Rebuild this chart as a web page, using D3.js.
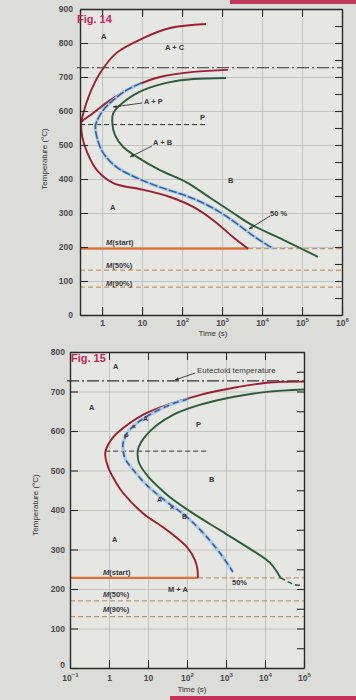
<!DOCTYPE html>
<html><head><meta charset="utf-8">
<script src="https://cdn.jsdelivr.net/npm/d3@7"></script>
<style>body{margin:0;background:#dcdcd8}svg{display:block}</style>
</head><body><svg id="c" width="356" height="700"></svg>
<script>
// ---------------- DATA ----------------
// Fig. 14
const temps14 = [0,100,200,300,400,500,600,700,800,900];
const times14 = [1,10,100,1000,10000,100000,1000000];
const timeLabels14 = ['1','10','10^2','10^3','10^4','10^5','10^6'];
const eutectoid14 = 727;
const msStart14 = 195, ms50_14 = 132, ms90_14 = 82;
const pLine14 = {t0: 0.28, t1: 380, T: 560};
// [time (s), temperature (°C)]
const redOuter14 = [[400,856],[50,844],[11,815],[2.3,771],[0.89,712],[0.5,653],[0.34,594],[0.3,562],[0.32,523],[0.43,476],[0.74,426],[1.9,388],[11,368],[50,347],[190,318],[600,279],[1900,229],[4500,195]];
const redInner14 = [[1400,721],[190,715],[28,700],[6,671],[1.6,632],[0.6,594],[0.31,570]];
const blue14 = [[9.5,682],[4.2,662],[1.9,632],[1.07,603],[0.74,570],[0.68,555],[0.74,523],[1.07,476],[2.3,435],[7.4,403],[28,376],[130,350],[400,325],[1500,285],[6000,233],[19000,195]];
const green14 = [[1260,697],[190,694],[50,685],[11,662],[3.4,626],[1.9,594],[1.8,565],[2.1,529],[3.4,494],[7.4,465],[28,426],[130,390],[500,345],[1900,300],[5000,268],[34000,221],[89000,197],[250000,171]];

// Fig. 15
const temps15 = [0,100,200,300,400,500,600,700,800];
const times15 = [0.1,1,10,100,1000,10000,100000];
const timeLabels15 = ['10^-1','1','10','10^2','10^3','10^4','10^5'];
const eutectoid15 = 727;
const msStart15 = 228, ms50_15 = 170, ms90_15 = 130;
const pLine15 = {t0: 0.8, t1: 350, T: 549};
const red15 = [[100000,725],[11000,722],[1500,709],[210,691],[31,666],[7.4,641],[2.9,615],[1.3,585],[0.95,565],[0.82,550],[0.8,540],[0.86,522],[1.0,503],[1.5,470],[2.3,443],[7.4,392],[31,349],[100,306],[160,273],[185,250],[190,228]];
const green15 = [[100000,705],[11000,699],[1500,686],[210,666],[44,641],[17,615],[8.3,585],[5.8,560],[5.4,545],[5.9,519],[10,485],[20,455],[36,433],[140,392],[700,349],[3500,306],[13500,266],[25000,228]];
const green15tail = [[25000,228],[50000,213],[62000,210],[95000,210]];
const blue15 = [[107,681],[36,666],[11,641],[5.2,620],[2.9,595],[2.3,570],[2.3,552],[2.6,530],[4.2,501],[10,460],[31,420],[100,382],[320,332],[700,291],[1260,255],[1500,243]];

// ---------------- DRAWING ----------------
const svg = d3.select('#c');
const FONT = "'Liberation Sans Narrow','Liberation Sans',Arial,sans-serif";
const RED = '#9a1f35', GREEN = '#2e5b3d', BLUE = '#35609a', LBLUE = '#a9c8e6';
const ORANGE = '#e0703a', MDASH = '#b98457';

// page edge decorations
svg.append('rect').attr('x',230).attr('y',0).attr('width',126).attr('height',4).attr('fill','#c33a60');
svg.append('rect').attr('x',170).attr('y',696).attr('width',186).attr('height',4).attr('fill','#c9305a');

function supText(sel, s){
  sel.text(null);
  const m = s.split('^');
  sel.append('tspan').text(m[0]);
  if(m.length>1) sel.append('tspan').attr('dy',-4).attr('font-size',6).text(m[1].replace('-','\u2212'));
}

function panel(o){
  const x = d3.scaleLog().domain(o.xDomain).range([o.left,o.right]);
  const y = d3.scaleLinear().domain([0,o.tMax]).range([o.bottom,o.top]);
  const g = svg.append('g');
  const W = o.right-o.left, H = o.bottom-o.top;
  g.append('rect').attr('x',o.left).attr('y',o.top).attr('width',W).attr('height',H).attr('fill','#e6e6e3');
  // grid
  g.append('g').attr('transform',`translate(0,${o.bottom})`)
    .call(d3.axisBottom(x).tickValues(o.times).tickSize(-H).tickFormat(''))
    .call(s=>{s.select('.domain').remove();s.selectAll('line').attr('stroke','#b9b9b6').attr('stroke-width',0.8);});
  g.append('g').attr('transform',`translate(${o.left},0)`)
    .call(d3.axisLeft(y).tickValues(o.temps).tickSize(-W).tickFormat(''))
    .call(s=>{s.select('.domain').remove();s.selectAll('line').attr('stroke','#b9b9b6').attr('stroke-width',0.8);});
  const line = d3.line().x(d=>x(d[0])).y(d=>y(d[1])).curve(d3.curveCatmullRom.alpha(0.5));
  // eutectoid dash-dot
  g.append('line').attr('x1',o.left-3).attr('x2',o.right).attr('y1',y(o.eut)).attr('y2',y(o.eut))
    .attr('stroke','#333').attr('stroke-width',1.1).attr('stroke-dasharray','12,3,2,3');
  // M lines
  g.append('line').attr('x1',o.left).attr('x2',x(o.msEnd)).attr('y1',y(o.ms)).attr('y2',y(o.ms))
    .attr('stroke',ORANGE).attr('stroke-width',2.3);
  g.append('line').attr('x1',x(o.msEnd)).attr('x2',o.right).attr('y1',y(o.ms)).attr('y2',y(o.ms))
    .attr('stroke',MDASH).attr('stroke-width',1).attr('stroke-dasharray','5,3');
  [o.m50,o.m90].forEach(T=>{
    g.append('line').attr('x1',o.left).attr('x2',o.right).attr('y1',y(T)).attr('y2',y(T))
      .attr('stroke',MDASH).attr('stroke-width',1).attr('stroke-dasharray','5,3');
  });
  // P dashed line
  g.append('line').attr('x1',x(o.p.t0)).attr('x2',x(o.p.t1)).attr('y1',y(o.p.T)).attr('y2',y(o.p.T))
    .attr('stroke','#333').attr('stroke-width',1).attr('stroke-dasharray','5,3');
  // curves
  o.curves.forEach(c=>{
    if(c.under) g.append('path').attr('d',line(c.data)).attr('fill','none').attr('stroke',c.under).attr('stroke-width',3.2);
    g.append('path').attr('d',line(c.data)).attr('fill','none').attr('stroke',c.color)
      .attr('stroke-width',c.w||1.9).attr('stroke-dasharray',c.dash||null);
  });
  // axes
  const ax = s=>{s.select('.domain').attr('stroke','#2a2a2a').attr('stroke-width',1.4);
    s.selectAll('.tick line').attr('stroke','#2a2a2a').attr('stroke-width',1.1);
    s.selectAll('text').attr('font-family',FONT).attr('font-size',8.5).attr('font-weight',700).attr('fill','#4a4a4a');};
  const ly = g.append('g').attr('transform',`translate(${o.left},0)`)
    .call(d3.axisLeft(y).tickValues(o.temps).tickSize(-8).tickPadding(o.yPad).tickSizeOuter(0)).call(ax);
  if(o.zeroUp) ly.selectAll('.tick').filter(d=>d===0).select('text').attr('y',-o.zeroUp);
  const rt = d3.range(50,o.tMax,50);
  g.append('g').attr('transform',`translate(${o.right},0)`)
    .call(d3.axisRight(y).tickValues(rt).tickSize(-7).tickFormat('').tickSizeOuter(0)).call(ax);
  g.append('g').attr('transform',`translate(0,${o.top})`)
    .call(d3.axisTop(x).tickValues(o.times).tickSize(-8).tickFormat('').tickSizeOuter(0)).call(ax);
  const bx = g.append('g').attr('transform',`translate(0,${o.bottom})`)
    .call(d3.axisBottom(x).tickValues(o.times).tickSize(-8).tickPadding(o.xPad).tickSizeOuter(0)).call(ax);
  bx.selectAll('.tick text').each(function(d,i){supText(d3.select(this),o.timeLabels[i]);});
  // titles
  g.append('text').attr('x',o.tx).attr('y',o.ty).attr('text-anchor','middle').attr('font-family',FONT)
    .attr('font-size',8).attr('fill','#333').text('Time (s)');
  g.append('text').attr('transform',`translate(${o.yx},${o.yy}) rotate(-90)`).attr('text-anchor','middle')
    .attr('font-family',FONT).attr('font-size',8).attr('fill','#333').text('Temperature (\u00B0C)');
  // labels
  g.append('text').attr('x',o.fig[0]).attr('y',o.fig[1]).attr('font-family','Liberation Sans,Arial,sans-serif')
    .attr('font-size',11).attr('font-weight',700).attr('fill','#c2285a').attr('dominant-baseline','middle').text(o.fig[2]);
  o.labels.forEach(l=>{
    const t = g.append('text').attr('x',l[0]).attr('y',l[1]).attr('font-family',FONT).attr('font-size',l[3]||7.5)
      .attr('font-weight',l[4]?400:700).attr('fill','#3a3a3a').attr('dominant-baseline','middle');
    if(l[2].startsWith('M(')){t.append('tspan').attr('font-style','italic').text('M');t.append('tspan').text(l[2].slice(1));}
    else t.text(l[2]);
  });
  o.leaders.forEach(l=>{
    g.append('line').attr('x1',l[0]).attr('y1',l[1]).attr('x2',l[2]).attr('y2',l[3]).attr('stroke','#333').attr('stroke-width',0.9);
    const a = Math.atan2(l[3]-l[1],l[2]-l[0]);
    const p = [[l[2],l[3]],[l[2]-4*Math.cos(a-0.4),l[3]-4*Math.sin(a-0.4)],[l[2]-4*Math.cos(a+0.4),l[3]-4*Math.sin(a+0.4)]];
    g.append('path').attr('d','M'+p.join('L')+'Z').attr('fill','#333');
  });
}

panel({
  xDomain:[0.28,1e6], tMax:900, left:80, right:342, top:9, bottom:315,
  times:times14, temps:temps14, timeLabels:timeLabels14, yPad:7, xPad:5,
  eut:eutectoid14, ms:msStart14, msEnd:4500, m50:ms50_14, m90:ms90_14, p:pLine14,
  curves:[
    {data:redOuter14,color:RED},
    {data:redInner14,color:RED},
    {data:blue14,color:BLUE,under:LBLUE,dash:'8,2',w:1.5},
    {data:green14,color:GREEN}
  ],
  tx:213, ty:336, yx:47, yy:159, fig:[77,20,'Fig. 14'],
  labels:[[101,37,'A'],[165,48,'A + C'],[144,102,'A + P'],[200,118,'P'],[153,143,'A + B'],[228,181,'B'],[110,208,'A'],
    [270,214,'50 %'],[106,243,'M(start)'],[106,266,'M(50%)'],[106,284,'M(90%)']],
  leaders:[[142,103,113,107],[152,146,130,157],[270,216,249,229]]
});

panel({
  xDomain:[0.1,1e5], tMax:800, left:70, right:304, top:352, bottom:668,
  times:times15, temps:temps15, timeLabels:timeLabels15, yPad:5, xPad:7, zeroUp:3,
  eut:eutectoid15, ms:msStart15, msEnd:190, m50:ms50_15, m90:ms90_15, p:pLine15,
  curves:[
    {data:red15,color:RED},
    {data:blue15,color:BLUE,under:LBLUE,dash:'6,4',w:1.6},
    {data:green15,color:GREEN},
    {data:green15tail,color:GREEN,dash:'5,3',w:1.5}
  ],
  tx:192, ty:692, yx:38, yy:505, fig:[71,359,'Fig. 15'],
  labels:[[113,367,'A'],[197,371,'Eutectoid temperature',8,1],[89,408,'A'],[196,425,'P'],[209,480,'B'],[112,540,'A'],
    [103,573,'M(start)'],[168,590,'M + A'],[103,595,'M(50%)'],[103,610,'M(90%)'],[232,583,'50%'],
    [124,437,'P',7],[132,427,'\u00D7',7],[143,419,'A',7],[157,500,'A',7],[170,508,'\u00D7',7],[182,517,'B',7]],
  leaders:[[195,373,175,380]]
});
</script></body></html>
